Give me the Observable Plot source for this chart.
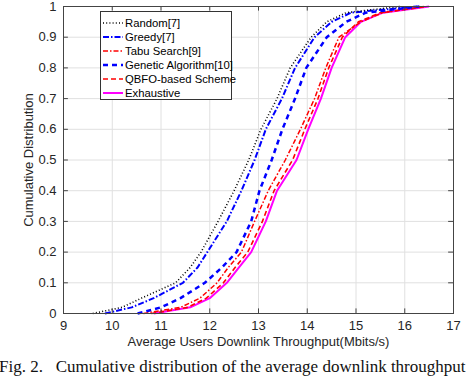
<!DOCTYPE html>
<html>
<head>
<meta charset="utf-8">
<script src="https://cdn.jsdelivr.net/npm/d3@7"></script>
<script src="https://cdn.jsdelivr.net/npm/@observablehq/plot@0.6"></script>
<style>
  html, body { margin: 0; padding: 0; background: #fff; }
  body { width: 474px; height: 376px; overflow: hidden; position: relative; font-family: "Liberation Sans", Arial, sans-serif; }
  #chart { position: absolute; left: 0; top: 0; }
  #legend { position: absolute; left: 100px; top: 11px; width: 132px; height: 89px; border: 1px solid #333; background: #fff; box-sizing: border-box; }
  .lrow { position: absolute; left: 0; height: 14px; display: flex; align-items: center; font-size: 11.3px; color: #000; white-space: nowrap; }
  .lrow svg { margin-left: 2px; margin-right: 2px; }
  #caption { position: absolute; left: -1px; top: 357px; font-family: "Liberation Serif", "Times New Roman", serif; font-size: 17px; white-space: nowrap; color: #111; }
</style>
</head>
<body>
<div id="chart"></div>
<div id="legend"></div>
<div id="caption">Fig. 2.&nbsp;&nbsp;&nbsp;Cumulative distribution of the average downlink throughput</div>
<script>
// CDF levels
const cdfLevels = [0, 0.02, 0.05, 0.1, 0.15, 0.2, 0.3, 0.4, 0.5, 0.6, 0.7, 0.8, 0.9, 0.95, 0.98, 1];
// throughput (Mbits/s) at each CDF level
const randomX     = [9.6, 10.2, 10.6, 11.3, 11.6, 11.82, 12.17, 12.5, 12.8, 13.05, 13.38, 13.65, 14.08, 14.4, 14.8, 15.9];
const greedyX     = [9.85, 10.4, 10.85, 11.45, 11.75, 11.95, 12.35, 12.65, 12.92, 13.15, 13.48, 13.75, 14.15, 14.5, 14.9, 16.25];
const tabuX       = [10.64, 11.4, 11.8, 12.15, 12.38, 12.65, 12.92, 13.2, 13.55, 13.86, 14.15, 14.38, 14.65, 15.1, 15.55, 16.4];
const geneticX    = [10.52, 11.0, 11.4, 11.9, 12.25, 12.55, 12.85, 13.02, 13.27, 13.49, 13.75, 13.98, 14.4, 14.8, 15.2, 16.3];
const qbfoX       = [10.8, 11.55, 11.93, 12.28, 12.52, 12.78, 13.08, 13.32, 13.7, 13.95, 14.22, 14.44, 14.72, 15.05, 15.5, 16.45];
const exhaustiveX = [10.85, 11.6, 12.0, 12.35, 12.6, 12.85, 13.15, 13.38, 13.78, 14.02, 14.28, 14.5, 14.78, 15.1, 15.55, 16.5];

const seriesNames = ["Random[7]", "Greedy[7]", "Tabu Search[9]", "Genetic Algorithm[10]", "QBFO-based Scheme", "Exhaustive"];
const seriesX = [randomX, greedyX, tabuX, geneticX, qbfoX, exhaustiveX];

const xTicks = [9, 10, 11, 12, 13, 14, 15, 16, 17];
const yTicks = [0, 0.1, 0.2, 0.3, 0.4, 0.5, 0.6, 0.7, 0.8, 0.9, 1];
const xLabel = "Average Users Downlink Throughput(Mbits/s)";
const yLabel = "Cumulative Distribution";

const styles = {
  "Random[7]":             {stroke: "#000000", width: 1.6, dash: "1,2.2"},
  "Greedy[7]":             {stroke: "#0000ff", width: 2,   dash: "6,2,1.5,2"},
  "Tabu Search[9]":        {stroke: "#ff0000", width: 1.5, dash: "5,2,1.5,2"},
  "Genetic Algorithm[10]": {stroke: "#0000ff", width: 2.5, dash: "5,4"},
  "QBFO-based Scheme":     {stroke: "#ff0000", width: 1.6, dash: "5,3"},
  "Exhaustive":            {stroke: "#ff00ff", width: 2,   dash: null}
};

const drawOrder = ["Exhaustive", "QBFO-based Scheme", "Tabu Search[9]", "Genetic Algorithm[10]", "Greedy[7]", "Random[7]"];

const rows = seriesNames.flatMap((name, i) => seriesX[i].map((x, j) => ({name, x, p: cdfLevels[j]})));

const fmt = d => String(+d.toFixed(1));

const lineMarks = drawOrder.map(name => {
  const s = styles[name];
  const opts = {x: "x", y: "p", stroke: s.stroke, strokeWidth: s.width, strokeLinecap: "butt", filter: d => d.name === name};
  if (s.dash) opts.strokeDasharray = s.dash;
  return Plot.line(rows, opts);
});

const chart = Plot.plot({
  width: 474,
  height: 352,
  marginLeft: 63,
  marginRight: 21,
  marginTop: 6,
  marginBottom: 39,
  style: {fontFamily: '"Liberation Sans", Arial, sans-serif', fontSize: "13px", color: "#262626", background: "#fff"},
  x: {domain: [9, 17]},
  y: {domain: [0, 1]},
  marks: [
    Plot.gridX(xTicks, {stroke: "#e0e0e0", strokeOpacity: 1}),
    Plot.gridY(yTicks, {stroke: "#e0e0e0", strokeOpacity: 1}),
    ...lineMarks,
    Plot.ruleX(xTicks, {x: d => d, y1: 0, y2: 0.015, stroke: "#444"}),
    Plot.ruleX(xTicks, {x: d => d, y1: 0.985, y2: 1, stroke: "#444"}),
    Plot.ruleY(yTicks, {y: d => d, x1: 9, x2: 9.1, stroke: "#444"}),
    Plot.ruleY(yTicks, {y: d => d, x1: 16.9, x2: 17, stroke: "#444"}),
    Plot.frame({stroke: "#444", strokeWidth: 1}),
    Plot.axisX({ticks: xTicks, tickSize: 0, tickPadding: 7, label: xLabel, labelAnchor: "center", labelArrow: "none", labelOffset: 32, fontSize: 13, tickFormat: d => String(d)}),
    Plot.axisY({ticks: yTicks, tickSize: 0, tickPadding: 7, label: yLabel, labelAnchor: "center", labelArrow: "none", labelOffset: 40, fontSize: 13, tickFormat: fmt})
  ]
});
document.getElementById("chart").appendChild(chart);

// legend
const legend = document.getElementById("legend");
const rowTops = [4, 18, 32, 46, 60, 74];
seriesNames.forEach((name, i) => {
  const s = styles[name];
  const row = document.createElement("div");
  row.className = "lrow";
  row.style.top = rowTops[i] + "px";
  row.innerHTML = `<svg width="20" height="10"><line x1="0" y1="5" x2="20" y2="5" stroke="${s.stroke}" stroke-width="${s.width}" ${s.dash ? `stroke-dasharray="${s.dash}"` : ""}/></svg><span>${name}</span>`;
  legend.appendChild(row);
});
</script>
</body>
</html>
